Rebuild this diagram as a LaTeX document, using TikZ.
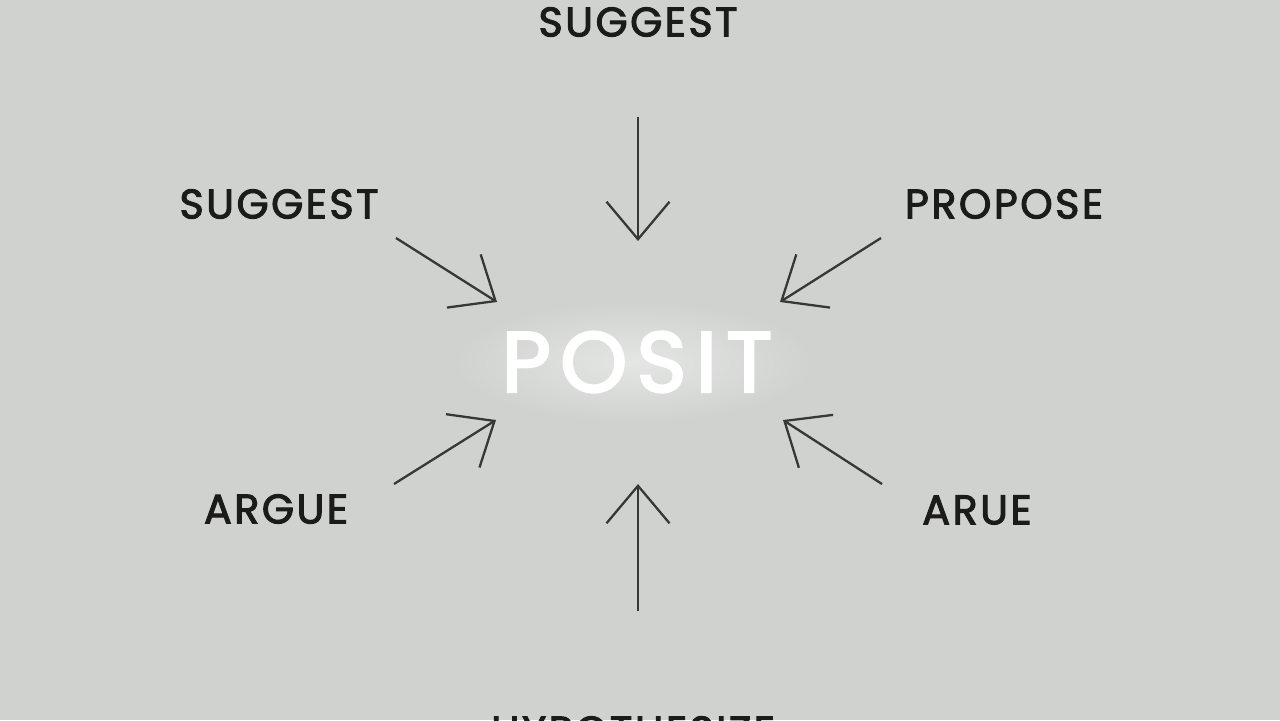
\documentclass[tikz,border=0pt]{standalone}
\usepackage{fontspec}
\setmainfont{Poppins}
\newfontfamily\wordfont{Poppins}[FakeBold=2.5, LetterSpace=6]
\newfontfamily\centrefont{Poppins}[FakeBold=3, LetterSpace=11]
\usetikzlibrary{arrows.meta}
\definecolor{bgcol}{HTML}{CFD2CE}
\definecolor{inkcol}{HTML}{1A1B1A}
\definecolor{arrcol}{HTML}{363736}
\begin{document}
\begin{tikzpicture}[x=0.02cm, y=-0.02cm,
  word/.style = {text=inkcol, font=\wordfont\fontsize{23.5}{25}\selectfont, inner sep=0pt},
  point/.style = {draw=arrcol, line width=1.3pt, -{Straight Barb[length=7.5mm, width=12.6mm, line width=1.3pt]}}]
\fill[bgcol] (0,0) rectangle (1280,720);
\clip (0,0) rectangle (1280,720);
\useasboundingbox (0,0) rectangle (1280,720);
% soft light behind the centre word
\shade[inner color=white!45!bgcol, outer color=bgcol] (634,362) ellipse (180 and 60);
% words round the centre
\node[word] (sugtop) at (638,22) {SUGGEST};
\node[word] (sugleft) at (279,204) {SUGGEST};
\node[word] (propose) at (1004,204) {PROPOSE};
\node[word] (argue) at (276,509) {ARGUE};
\node[word] (arue) at (977,510) {ARUE};
\node[word] (hypo) at (633,731) {HYPOTHESIZE};
\node[text=white, font=\centrefont\fontsize{48.5}{51}\selectfont, inner sep=0pt] (posit) at (637,362) {POSIT};
% arrow ends
\coordinate (t1) at (638,117); \coordinate (h1) at (638,241);
\coordinate (t2) at (396,238); \coordinate (h2) at (497,302);
\coordinate (t3) at (881,238); \coordinate (h3) at (780,302);
\coordinate (t4) at (394,484); \coordinate (h4) at (496,420);
\coordinate (t5) at (882,484); \coordinate (h5) at (783,420);
\coordinate (t6) at (638,611); \coordinate (h6) at (638,484);
\foreach \i in {1,...,6}
  \draw[point] (t\i) -- (h\i);
\end{tikzpicture}
\end{document}
